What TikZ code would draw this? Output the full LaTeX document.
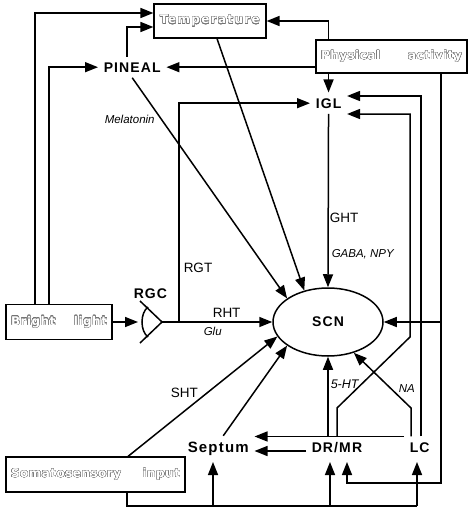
\documentclass[tikz,border=0pt]{standalone}
\usepackage{fontspec}
\setmainfont{Liberation Sans}
\newfontfamily\boxfont[LetterSpace=4]{DejaVu Sans}
\newfontfamily\lblfont[LetterSpace=8]{Liberation Sans}
\usepackage{contour}
\contourlength{0.35pt}
\usetikzlibrary{arrows.meta,shapes.geometric}
\newcommand\olt[1]{\contour{black!55}{\textcolor{white}{#1}}}
\begin{document}
\begin{tikzpicture}[x=1pt,y=-1pt,line width=1.5pt,
  arr/.style={-{Triangle[length=13pt,width=10pt]}},
  bx/.style={draw,line width=1.2pt,minimum height=34pt,inner xsep=5pt,inner ysep=0pt,
    font=\boxfont\bfseries\fontsize{12}{14}\selectfont},
  bl/.style={font=\lblfont\bfseries\fontsize{14}{16}\selectfont,inner sep=5pt,anchor=base west},
  tl/.style={font=\fontsize{13.5}{15}\selectfont,inner sep=0pt,anchor=base west},
  il/.style={font=\itshape\fontsize{11.5}{13}\selectfont,inner sep=0pt,anchor=base west}]
\useasboundingbox (0,0) rectangle (474,511);
% boxes
\node[bx,text width=102pt,align=center] (Temp) at (210,21) {\addfontfeatures{LetterSpace=11}\olt{Temperature}};
\node[bx,text width=141pt,minimum height=33pt] (Phys) at (391.5,56.5) {\olt{Physical}\hfill\olt{activity}};
\node[bx,text width=96pt,minimum height=35pt] (Bright) at (59,322) {\olt{Bright}\hfill\olt{light}};
\node[bx,text width=169pt,minimum height=35pt] (Soma) at (95.5,474.5) {\olt{Somatosensory}\hfill\olt{input}};
% bold labels
\node[bl] (PINEAL) at (98,72) {PINEAL};
\node[bl] (IGL) at (310,108) {IGL};
\node[bl] (RGC) at (128,298) {RGC};
\node[bl,font=\lblfont\bfseries\fontsize{15}{17}\selectfont] (Septum) at (182,452) {Septum};
\node[bl] (DRMR) at (306,452) {DR/MR};
\node[bl] (LC) at (404,452) {LC};
\node[draw,ellipse,minimum width=110pt,minimum height=68pt,inner sep=0pt,
  font=\lblfont\bfseries\fontsize{14}{16}\selectfont] (SCN) at (328,322) {SCN};
% plain labels
\node[tl] (tRGT) at (183,272) {RGT};
\node[tl] (tGHT) at (329,222) {GHT};
\node[tl] (tRHT) at (212,317) {RHT};
\node[tl] (tSHT) at (170,397) {SHT};
\node[il] (tMel) at (104,123) {Melatonin};
\node[il] (tGABA) at (331,257) {GABA, NPY};
\node[il] (tGlu) at (203,335) {Glu};
\node[il,font=\itshape\fontsize{12.5}{14}\selectfont] (t5HT) at (330,388) {5-HT};
\node[il] (tNA) at (398,392) {NA};
% helper coordinates
\coordinate (tip) at (0,462);
\coordinate (a1) at (35,13);
\coordinate (a2) at (49,0);
\coordinate (a3) at (127,27);
\coordinate (eye) at (162,322);
\coordinate (eyeL) at (138,322);
\coordinate (r1) at (179,322);
\coordinate (pr) at (441,483);
\coordinate (dm2) at (347,0);
\coordinate (i1) at (421,96);
\coordinate (d1) at (337,408);
\coordinate (d2) at (410,337);
\coordinate (i2) at (410,114);
\coordinate (n1) at (411,408);
\coordinate (ds) at (0,451);
\coordinate (sh) at (128,0);
\coordinate (s0) at (127,506);
\coordinate (s1) at (213,506);
\coordinate (s2) at (330,506);
\coordinate (s3) at (417,506);
% eye
\draw (eye) -- (140,301) (eye) -- (140,343);
\draw (148,307) .. controls (140,313) and (140,331) .. (148,337);
% connectors
\draw[arr] (Bright.north -| a1) -- (a1) -- (a1 -| Temp.west);
\draw[arr] (Bright.north -| a2) |- (PINEAL.west);
\draw[arr] (PINEAL.north -| a3) -- (a3) -- (a3 -| Temp.west);
\draw[arr] (Phys.west |- PINEAL.east) -- (PINEAL.east);
\draw[arr] (Phys.north -| IGL.north) |- (Temp.east);
\draw[arr] (Phys.south -| IGL.north) -- (IGL.north);
\draw[arr] ([xshift=7pt]Temp.south) -- (SCN.127);
\draw[arr] (PINEAL.south) -- (SCN.150);
\draw[arr] (IGL.south) -- (SCN.north);
\draw[arr] (Bright.east) -- (eyeL);
\draw[arr] (eye) -- (SCN.west);
\draw[arr] (r1) |- (IGL.west);
\draw[arr] (Phys.south -| pr) -- (pr) -- (pr -| dm2) -- (dm2 |- tip);
\draw[arr] (pr |- SCN.east) -- (SCN.east);
\draw[arr] (LC.north -| i1) -- (i1) -- (i1 -| IGL.east);
\draw[arr] (DRMR.north -| d1) -- (d1) -- (d2) -- (i2) -- (i2 -| IGL.east);
\draw[arr] (LC.north -| n1) -- (n1) -- (SCN.-50);
\draw[arr] (DRMR.north -| SCN.south) -- (SCN.south);
\draw[arr] (LC.north west) -- (LC.north west -| Septum.east);
\draw[arr] (DRMR.west |- ds) -- (Septum.east |- ds);
\draw[arr] ([xshift=5pt]Septum.north) -- (SCN.210);
\draw[arr] (Soma.north -| sh) -- (SCN.196);
\draw (Soma.south -| s0) -- (s0) -- (s3);
\draw[arr] (s1) -- (s1 |- tip);
\draw[arr] (s2) -- (s2 |- tip);
\draw[arr] (s3) -- (s3 |- tip);
\end{tikzpicture}
\end{document}
